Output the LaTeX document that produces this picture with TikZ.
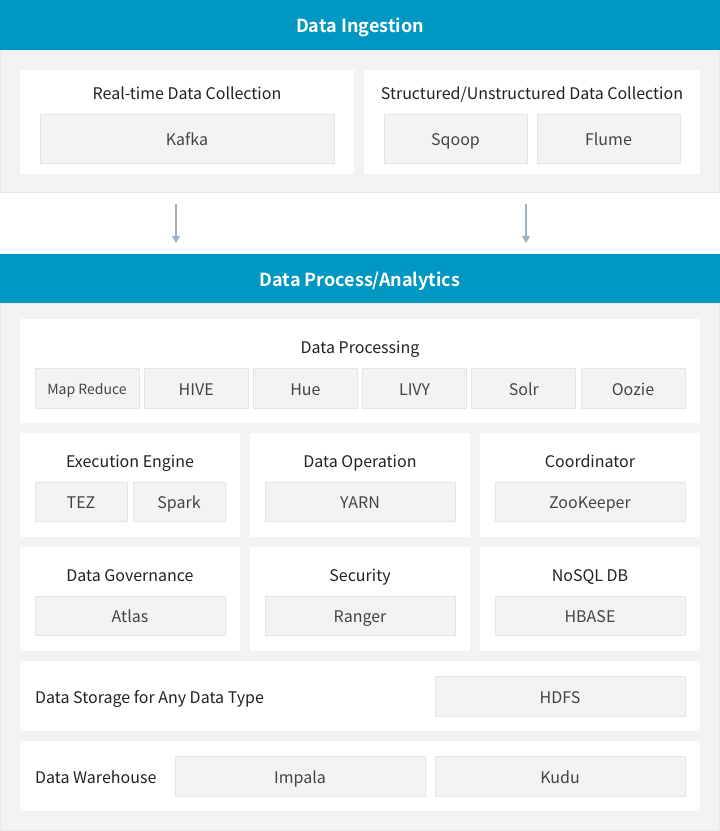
\documentclass[tikz,border=0pt]{standalone}
\usepackage{fontspec}
\setmainfont{Noto Sans CJK KR}[BoldFont={Noto Sans CJK KR Bold}]
\usepackage{tikz}
\usetikzlibrary{arrows.meta}

\definecolor{bannerblue}{RGB}{0,151,194}
\definecolor{panelgrey}{RGB}{243,243,243}
\definecolor{panelline}{RGB}{234,234,234}
\definecolor{toolline}{RGB}{229,229,229}
\definecolor{arrowgrey}{RGB}{157,178,198}
\definecolor{titletext}{RGB}{34,34,34}
\definecolor{tooltext}{RGB}{68,68,68}

\tikzset{
  banner/.style={fill=bannerblue, text=white, inner sep=0pt, minimum width=720pt,
    text height=19.5pt, text depth=3.6pt, font=\fontsize{18}{20}\selectfont\bfseries},
  panel/.style={fill=panelgrey, draw=panelline, line width=1pt, inner sep=0pt, minimum width=719pt},
  card/.style={fill=white, inner sep=0pt},
  cardtitle/.style={text=titletext, font=\fontsize{16}{18}\selectfont, inner sep=0pt,
    text height=16.8pt, text depth=3.2pt},
  tool/.style={fill=panelgrey, draw=toolline, line width=0.8pt, inner sep=0pt, text=tooltext,
    text height=17.8pt, text depth=3.2pt, font=\fontsize{16}{18}\selectfont},
  flow/.style={arrowgrey, line width=1.3pt, -{Triangle[width=8pt,length=7pt]}}
}

\begin{document}
\begin{tikzpicture}[x=1pt, y=-1pt]
\useasboundingbox (0,0) rectangle (720,831);

\node[banner, minimum height=50pt] (ingest) at (360,25) {Data Ingestion};
\node[panel, minimum height=142pt] (ingestpanel) at (360,121.5) {};

\node[card, minimum width=334pt, minimum height=104pt] (realtime) at (187,122) {};
\node[cardtitle] (realtimetitle) at (187,93) {Real-time Data Collection};
\node[tool, minimum width=294pt, minimum height=49pt] (kafka) at (187,138.5) {Kafka};

\node[card, minimum width=336pt, minimum height=104pt] (structured) at (532,122) {};
\node[cardtitle] (structuredtitle) at (532,93) {Structured/Unstructured Data Collection};
\node[tool, minimum width=143pt, minimum height=49pt] (sqoop) at (455.5,138.5) {Sqoop};
\node[tool, minimum width=143pt, minimum height=49pt] (flume) at (608.5,138.5) {Flume};

\coordinate (leftfrom) at (176,204);
\coordinate (leftto) at (176,243);
\coordinate (rightfrom) at (526,204);
\coordinate (rightto) at (526,243);
\draw[flow] (leftfrom) -- (leftto);
\draw[flow] (rightfrom) -- (rightto);

\node[banner, minimum height=49pt] (process) at (360,278.5) {Data Process/Analytics};
\node[panel, minimum height=527pt] (processpanel) at (360,566.5) {};

\node[card, minimum width=680pt, minimum height=104pt] (processing) at (360,371) {};
\node[cardtitle] (processingtitle) at (360,347) {Data Processing};
\node[tool, minimum width=104pt, minimum height=40pt, text height=16.4pt, font=\fontsize{14}{16}\selectfont] (mapreduce) at (87,388) {Map Reduce};
\node[tool, minimum width=104pt, minimum height=40pt] (hive) at (196.2,388) {HIVE};
\node[tool, minimum width=104pt, minimum height=40pt] (hue) at (305.4,388) {Hue};
\node[tool, minimum width=104pt, minimum height=40pt] (livy) at (414.6,388) {LIVY};
\node[tool, minimum width=104pt, minimum height=40pt] (solr) at (523.8,388) {Solr};
\node[tool, minimum width=104pt, minimum height=40pt] (oozie) at (633,388) {Oozie};

\node[card, minimum width=220pt, minimum height=104pt] (execution) at (130,485) {};
\node[cardtitle] (executiontitle) at (130,461) {Execution Engine};
\node[tool, minimum width=92pt, minimum height=39pt] (tez) at (81,501.5) {TEZ};
\node[tool, minimum width=92pt, minimum height=39pt] (spark) at (179,501.5) {Spark};

\node[card, minimum width=220pt, minimum height=104pt] (operation) at (360,485) {};
\node[cardtitle] (operationtitle) at (360,461) {Data Operation};
\node[tool, minimum width=190pt, minimum height=39pt] (yarn) at (360,501.5) {YARN};

\node[card, minimum width=220pt, minimum height=104pt] (coordinator) at (590,485) {};
\node[cardtitle] (coordinatortitle) at (590,461) {Coordinator};
\node[tool, minimum width=190pt, minimum height=39pt] (zookeeper) at (590,501.5) {ZooKeeper};

\node[card, minimum width=220pt, minimum height=104pt] (governance) at (130,599) {};
\node[cardtitle] (governancetitle) at (130,575) {Data Governance};
\node[tool, minimum width=190pt, minimum height=39pt] (atlas) at (130,615.5) {Atlas};

\node[card, minimum width=220pt, minimum height=104pt] (security) at (360,599) {};
\node[cardtitle] (securitytitle) at (360,575) {Security};
\node[tool, minimum width=190pt, minimum height=39pt] (ranger) at (360,615.5) {Ranger};

\node[card, minimum width=220pt, minimum height=104pt] (nosql) at (590,599) {};
\node[cardtitle] (nosqltitle) at (590,575) {NoSQL DB};
\node[tool, minimum width=190pt, minimum height=39pt] (hbase) at (590,615.5) {HBASE};

\node[card, minimum width=680pt, minimum height=70pt] (storage) at (360,696) {};
\node[cardtitle, anchor=west] (storagetitle) at (35,697) {Data Storage for Any Data Type};
\node[tool, minimum width=250pt, minimum height=40pt] (hdfs) at (560,696) {HDFS};

\node[card, minimum width=680pt, minimum height=70pt] (warehouse) at (360,776) {};
\node[cardtitle, anchor=west] (warehousetitle) at (35,777) {Data Warehouse};
\node[tool, minimum width=250pt, minimum height=40pt] (impala) at (300,776) {Impala};
\node[tool, minimum width=250pt, minimum height=40pt] (kudu) at (560,776) {Kudu};

\end{tikzpicture}
\end{document}
